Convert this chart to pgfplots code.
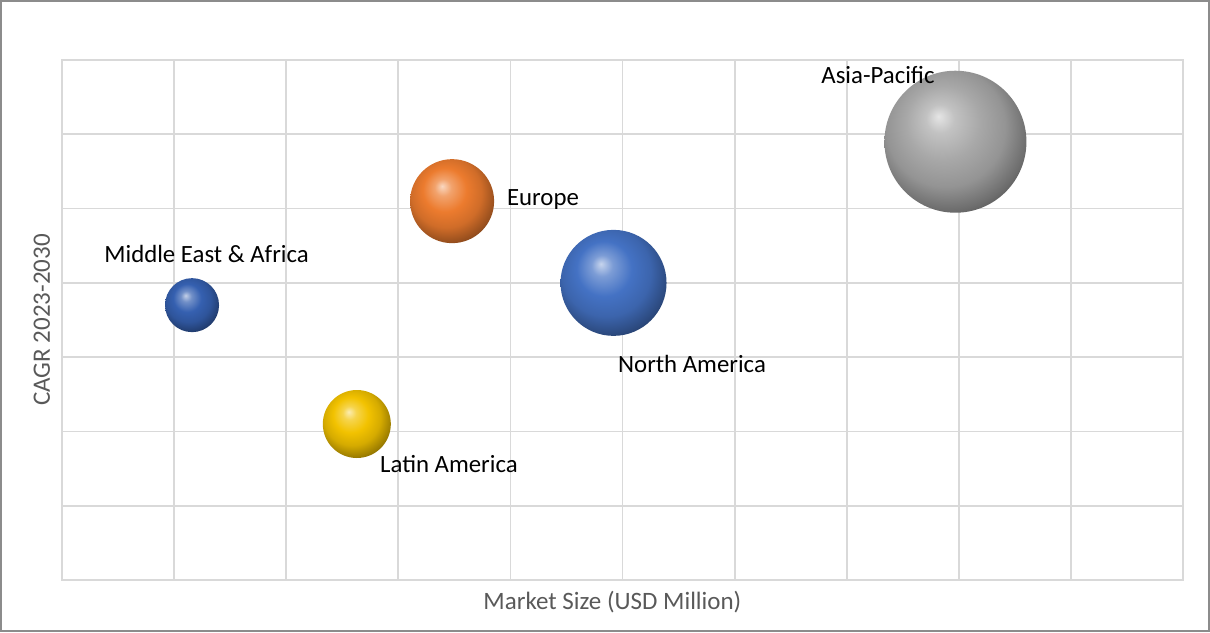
\documentclass[border=0pt]{standalone}
\usepackage{fontspec}
\setmainfont{Carlito}
\usepackage{pgfplots}
\pgfplotsset{compat=1.18}
\definecolor{gridc}{HTML}{D9D9D9}
\definecolor{framec}{HTML}{8C8C8C}
\definecolor{titlec}{HTML}{595959}
\definecolor{meac}{HTML}{3560B0}
\definecolor{nac}{HTML}{4472C4}
\definecolor{euc}{HTML}{EC7B2E}
\definecolor{lac}{HTML}{F2C200}
\definecolor{apc}{HTML}{A8A8A8}
\makeatletter
\pgfdeclareradialshading[tikz@ball]{ball}{\pgfqpoint{-6bp}{9bp}}{%
 color(0bp)=(tikz@ball!30!white);
 color(5bp)=(tikz@ball!70!white);
 color(13bp)=(tikz@ball);
 color(21bp)=(tikz@ball!88!black);
 color(28bp)=(tikz@ball!65!black);
 color(34bp)=(tikz@ball!40!black);
 color(50bp)=(tikz@ball!30!black)}
\makeatother
\begin{document}
\begin{tikzpicture}[x=1pt,y=1pt]
\path[draw=framec, line width=1pt] (0.5,0.5) rectangle (604.5,315.5);
\begin{axis}[
  set layers,
  at={(31pt,26pt)}, anchor=south west,
  width=560.5pt, height=260pt, scale only axis,
  xmin=0, xmax=10, ymin=0, ymax=7,
  xtick={0,1,...,10}, ytick={0,1,...,7},
  xticklabels={}, yticklabels={},
  major tick length=0pt,
  grid=major,
  grid style={gridc, line width=0.9pt},
  axis line style={gridc, line width=0.9pt},
  clip=false,
  xlabel={Market Size (USD Million)},
  ylabel={CAGR 2023-2030},
  xlabel style={at={(axis description cs:0.491,-0.042)}, anchor=center, text=titlec, font=\fontsize{12.5}{14}\selectfont},
  ylabel style={at={(axis description cs:-0.018,0.5)}, anchor=center, rotate=0, text=titlec, font=\fontsize{12.5}{14}\selectfont},
]
\addplot[only marks, mark=ball, mark size=13.5pt, mark options={ball color=meac, draw opacity=0}] coordinates {(1.16,3.70)};
\addplot[only marks, mark=ball, mark size=17pt, mark options={ball color=lac, draw opacity=0}] coordinates {(2.63,2.10)};
\addplot[only marks, mark=ball, mark size=21pt, mark options={ball color=euc, draw opacity=0}] coordinates {(3.48,5.10)};
\addplot[only marks, mark=ball, mark size=26.5pt, mark options={ball color=nac, draw opacity=0}] coordinates {(4.92,4.00)};
\addplot[only marks, mark=ball, mark size=35.5pt, mark options={ball color=apc, draw opacity=0}] coordinates {(7.97,5.90)};
\begin{pgfonlayer}{axis foreground}
\begin{scope}[every node/.style={font=\fontsize{12.4}{14}\selectfont, text=black, inner sep=0pt}]
\node at (axis cs:1.29,4.388) {Middle East \& Africa};
\node at (axis cs:4.291,5.12) {Europe};
\node at (axis cs:5.62,2.908) {North America};
\node at (axis cs:3.452,1.561) {Latin America};
\node at (axis cs:7.279,6.798) {Asia-Pacific};
\end{scope}
\end{pgfonlayer}
\end{axis}
\end{tikzpicture}
\end{document}
